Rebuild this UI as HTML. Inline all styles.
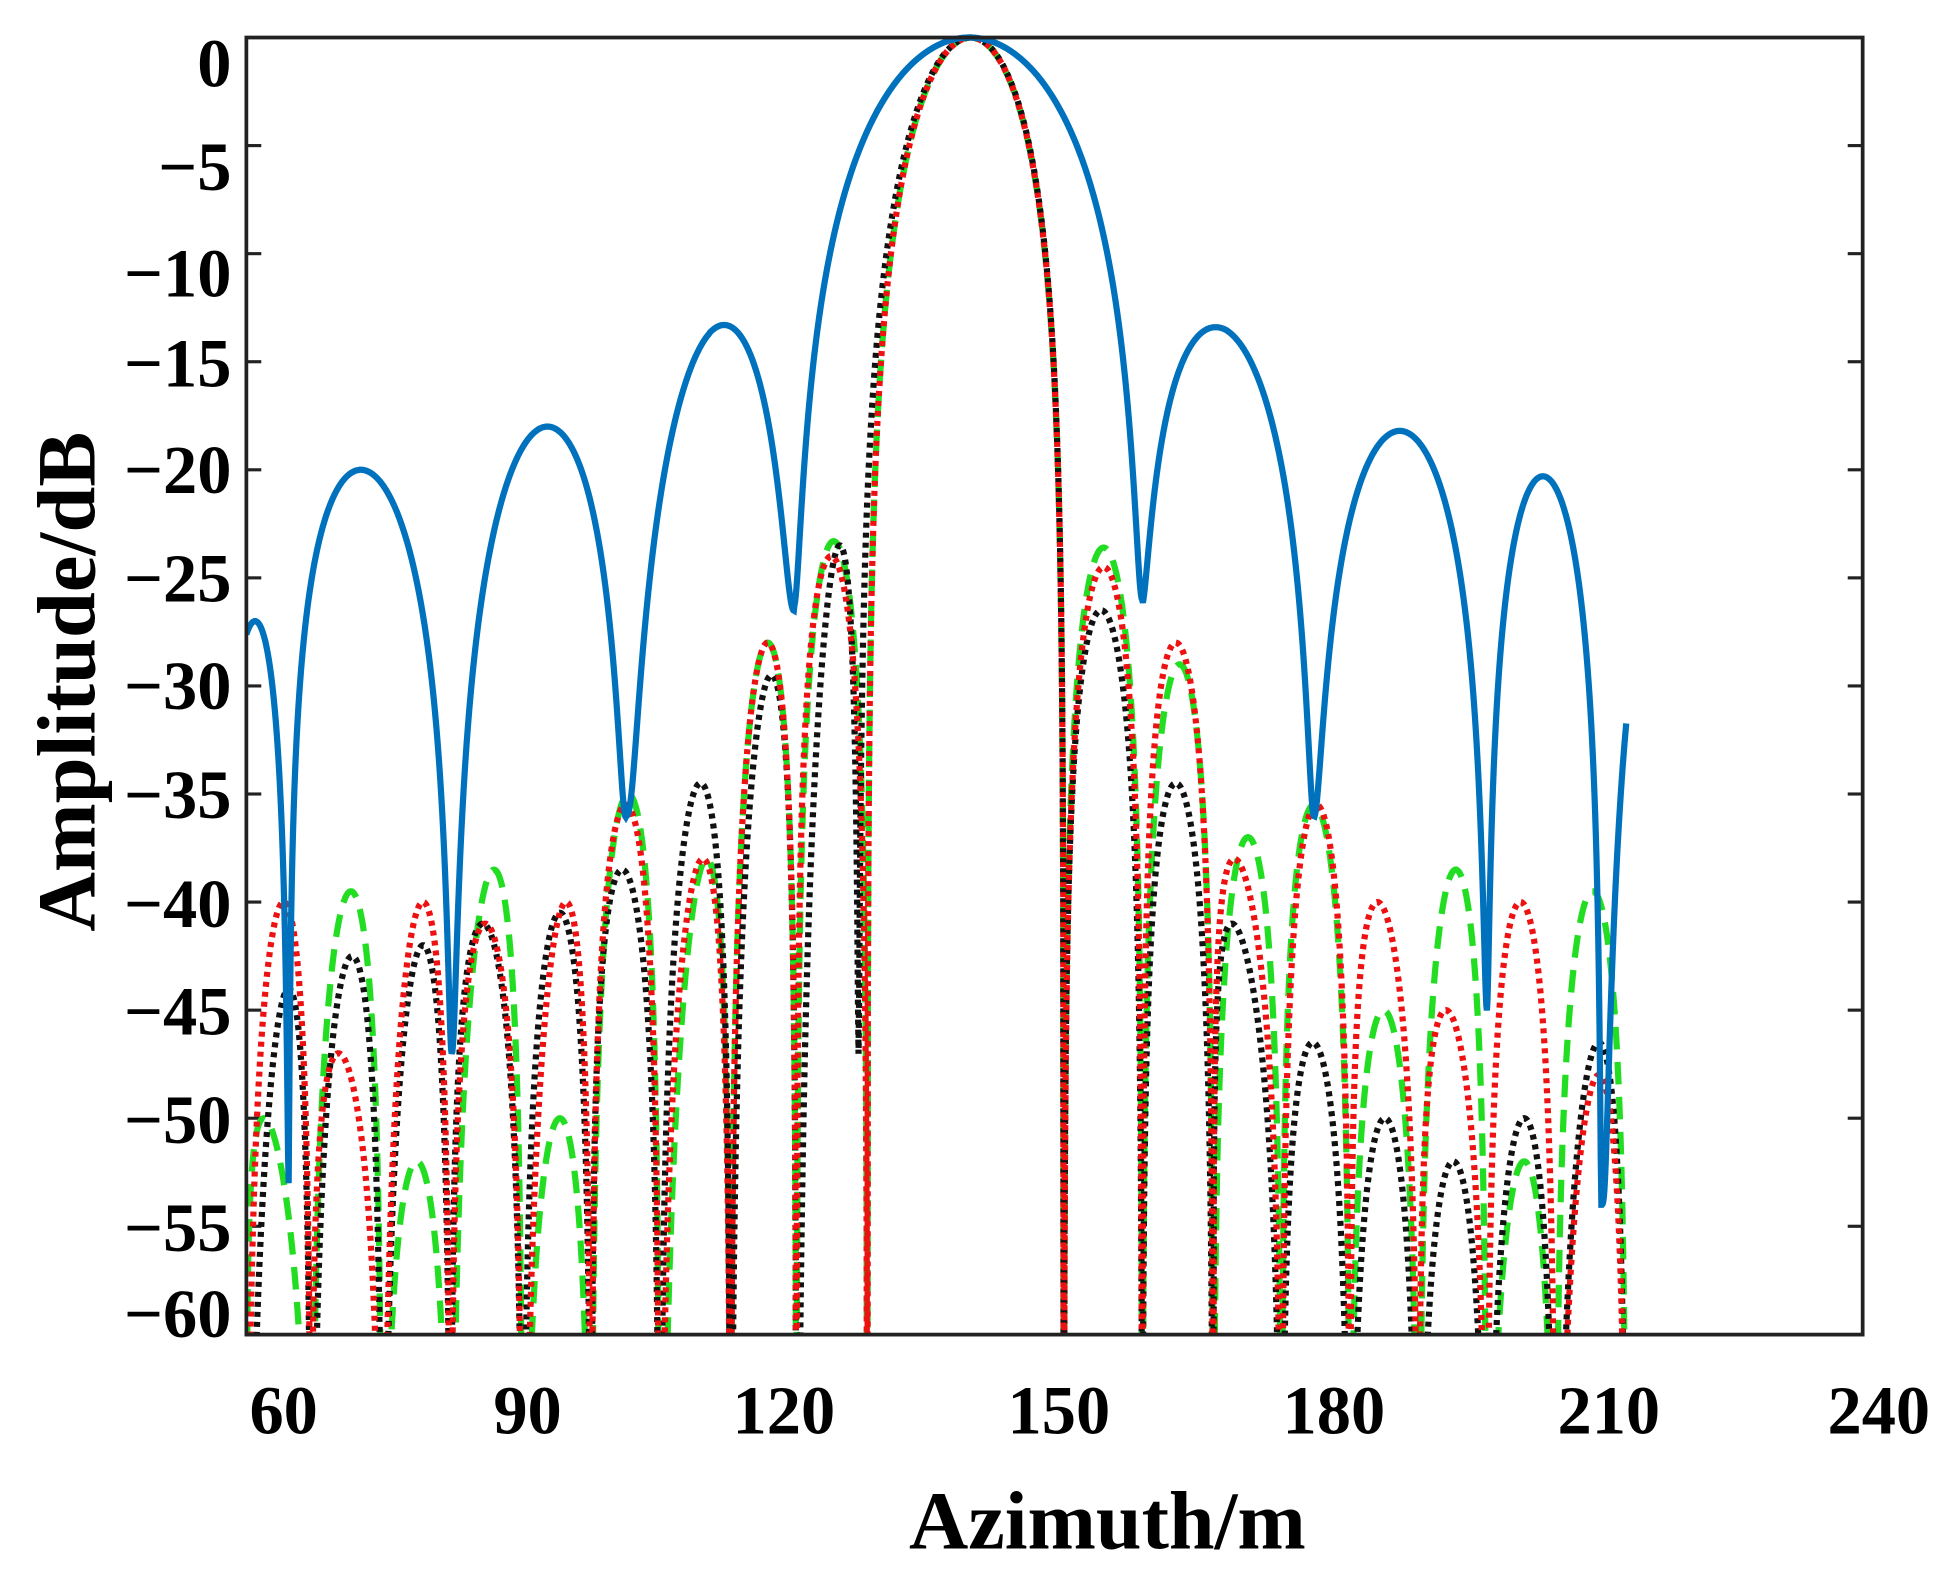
<!DOCTYPE html>
<html><head><meta charset="utf-8"><style>
html,body{margin:0;padding:0;background:#fff;overflow:hidden;width:1951px;height:1576px;}
svg{display:block;}
text{font-family:"Liberation Serif",serif;font-weight:bold;fill:#000;}
</style></head><body>
<svg id="s" width="1951" height="1576" viewBox="0 0 1568 1260" preserveAspectRatio="none" xmlns="http://www.w3.org/2000/svg">
<defs><clipPath id="c"><rect x="198" y="20" width="1299" height="1047"/></clipPath></defs>
<g id="ticks" stroke="#222" stroke-width="2.5"></g>
<g clip-path="url(#c)" fill="none" stroke-width="5">
<path id="g" stroke="#22dd22" stroke-dasharray="18 10"/>
<path id="k" stroke="#111" stroke-dasharray="4 4"/>
<path id="r" stroke="#ee1111" stroke-dasharray="4 4"/>
<path id="b" stroke="#0072bd" stroke-width="5"/>
</g>
<rect x="198" y="30" width="1299" height="1037" fill="none" stroke="#222" stroke-width="3"/>
<g font-size="55" text-anchor="end">
<text x="186" y="69">0</text><text x="186" y="152">−5</text><text x="186" y="237">−10</text>
<text x="186" y="309">−15</text><text x="186" y="394">−20</text><text x="186" y="481">−25</text>
<text x="186" y="567">−30</text><text x="186" y="654">−35</text><text x="186" y="741">−40</text>
<text x="186" y="827">−45</text><text x="186" y="914">−50</text><text x="186" y="1000">−55</text>
<text x="186" y="1069">−60</text>
</g>
<g font-size="55" text-anchor="middle">
<text x="228" y="1146">60</text><text x="424" y="1146">90</text><text x="630" y="1146">120</text>
<text x="851" y="1146">150</text><text x="1072" y="1146">180</text><text x="1293" y="1146">210</text>
<text x="1510" y="1146">240</text>
</g>
<text x="890" y="1238" font-size="66" text-anchor="middle">Azimuth/m</text>
<text transform="translate(76,545) rotate(-90)" font-size="66" text-anchor="middle">Amplitude/dB</text>
</svg>
<script>
function Y(d){return 30-d*17.28;}
var t=document.getElementById('ticks'),h='';
for(var k=1;k<=11;k++){var y=Y(-5*k);h+='<line x1="198" y1="'+y+'" x2="210" y2="'+y+'"/><line x1="1485" y1="'+y+'" x2="1497" y2="'+y+'"/>';}
t.innerHTML=h;
function build(nulls,peaks,x0,x1){
  var pts=[];
  for(var x=x0;x<=x1;x+=0.5){
    var i=0;while(i<nulls.length-2&&x>nulls[i+1][0])i++;
    var a=nulls[i],b=nulls[i+1],p=peaks[i];
    var tp=(p[0]-a[0])/(b[0]-a[0]);tp=Math.min(0.9,Math.max(0.1,tp));
    var kk=Math.log(0.5)/Math.log(tp);
    var tt=(x-a[0])/(b[0]-a[0]);tt=Math.min(1,Math.max(0,tt));
    var s=Math.sin(Math.PI*Math.pow(tt,kk));
    var fl=tt<0.5?a[1]:b[1];
    var eps=Math.pow(10,(fl-p[1])/20);
    var v=p[1]+20*Math.log10(Math.sqrt(s*s+eps*eps)/Math.sqrt(1+eps*eps));
    pts.push(x.toFixed(1)+','+Y(v).toFixed(1));
  }
  return 'M'+pts.join('L');
}
var B=build([[170,-60],[232,-53],[363,-47],[503,-36],[638,-26.3],[918,-26],[1056,-36],[1195,-45],[1287,-54],[1340,-60]],
 [[205,-27],[290,-20],[440,-18],[582,-13.3],[779,0],[977,-13.4],[1125,-18.2],[1240,-20.3],[1322,-27]],198,1307);
document.getElementById('b').setAttribute('d',B);
var N=[170,198,250,307,362,420,475,530,587,640,697,855,918,975,1030,1085,1140,1195,1250,1307,1360];
function nl(ov){return N.map(function(x,i){return [ov&&ov[i]?ov[i][0]:x, ov&&ov[i]?ov[i][1]:-80];});}
var R=build(nl(),[[185,-55],[228,-40],[272,-47],[340,-40],[390,-41],[455,-40],[503,-35.5],[565,-38],[617,-28],[668,-24],[780,0],[887,-24.5],[945,-28],[992,-38],[1058,-35.5],[1107,-40],[1162,-45],[1222,-40],[1285,-48],[1330,-55]],198,1307);
document.getElementById('r').setAttribute('d',R);
var KO={};KO[10]=[690,-47];
var K=build(nl(KO),[[185,-55],[232,-44],[283,-42.5],[340,-42],[388,-41],[450,-40.5],[500,-38.5],[563,-34.5],[620,-29.5],[675,-23.5],[780,0],[885,-26.5],[945,-34.5],[990,-41],[1055,-46.5],[1113,-50],[1168,-52],[1225,-50],[1285,-46.5],[1330,-55]],198,1307);
document.getElementById('k').setAttribute('d',K);
var G=build(nl(),[[185,-55],[212,-50],[282,-39.5],[335,-52],[397,-38.5],[450,-50],[505,-35],[568,-38],[617,-28],[670,-23.3],[780,0],[887,-23.6],[948,-29],[1003,-37],[1056,-35.5],[1112,-45],[1170,-38.5],[1225,-52],[1280,-39.5],[1330,-55]],198,1307);
document.getElementById('g').setAttribute('d',G);
</script>
</body></html>
